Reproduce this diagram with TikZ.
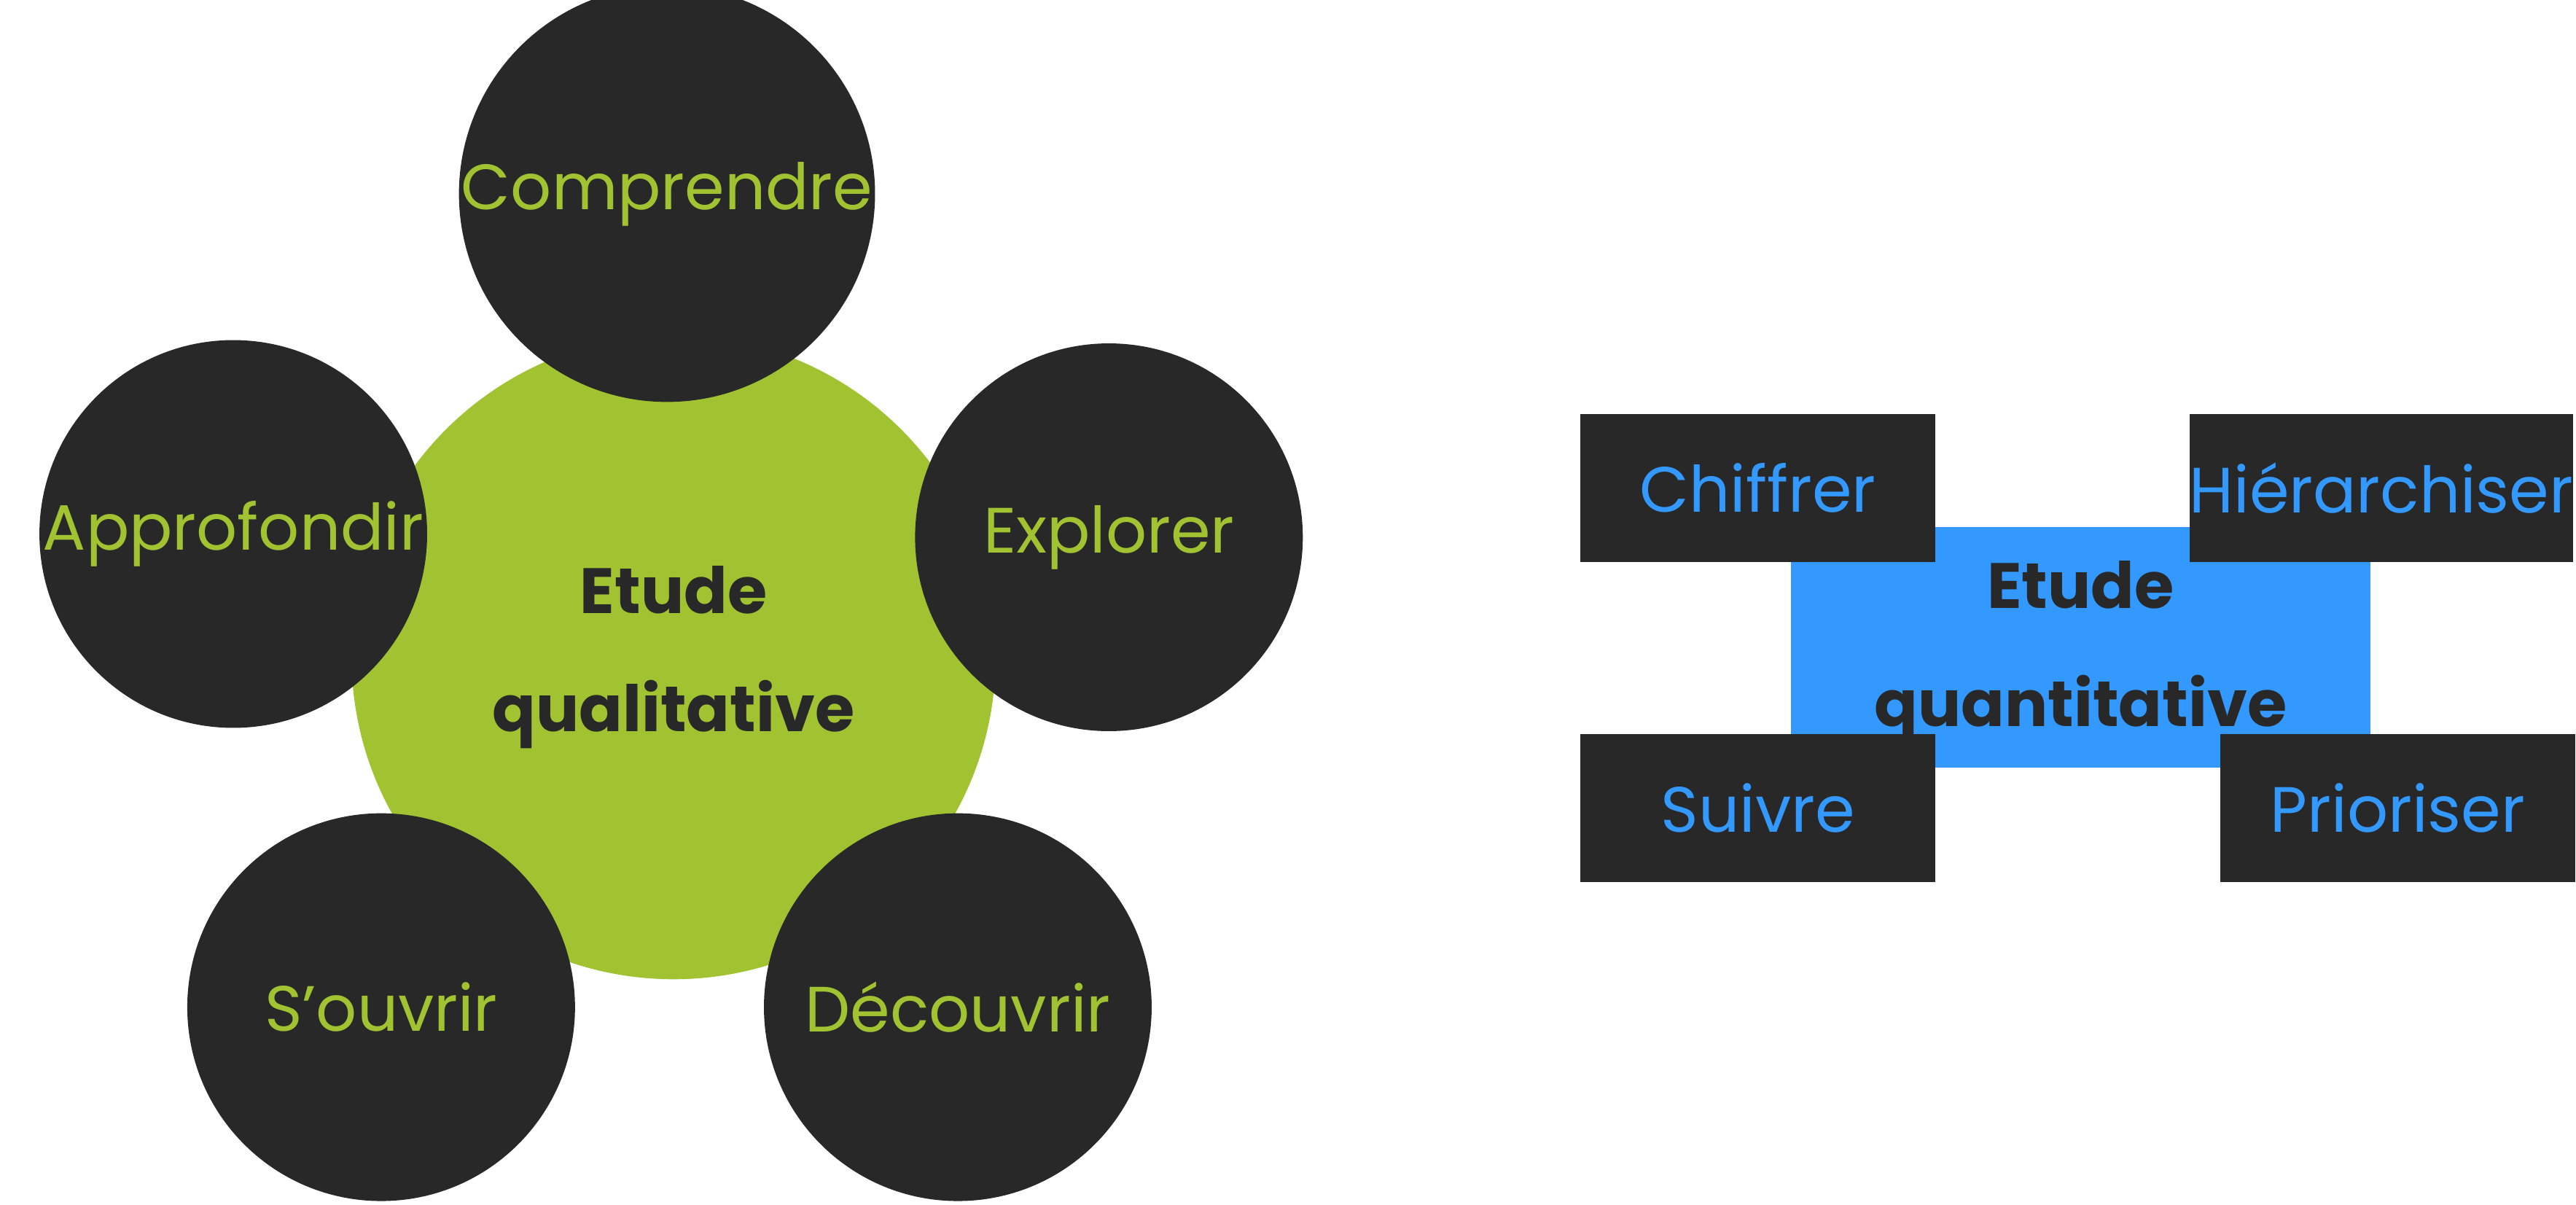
\documentclass[tikz,border=0pt]{standalone}
\usepackage{fontspec}
\setmainfont{Poppins}
\definecolor{darkgrey}{HTML}{282828}
\definecolor{leafgreen}{HTML}{A1C332}
\definecolor{skyblue}{HTML}{3399FF}
\begin{document}
\begin{tikzpicture}[x=0.02254cm,y=-0.02254cm]
      \tikzstyle{petal}=[circle, fill=darkgrey, minimum size=236*0.02254cm, inner sep=0pt,
                         text=leafgreen, font=\fontsize{25}{28}\selectfont]
      \tikzstyle{tag}=[rectangle, fill=darkgrey, minimum width=216*0.02254cm,
                       minimum height=90*0.02254cm, inner sep=0pt,
                       text=skyblue, font=\fontsize{25}{28}\selectfont]
      \tikzstyle{core}=[text=darkgrey, align=center, font=\bfseries\fontsize{25}{46}\selectfont]
      \useasboundingbox (0,0) rectangle (1568,733);

      % Qualitative side
      \node[circle, fill=leafgreen, minimum size=392*0.02254cm] (qual) at (410,400) {};
      \node[core] (qual-t) at (410,400) {Etude\\qualitative};
      \node[petal] (P-1) at (406,118) {Comprendre};
      \node[petal] (P-2) at (675,327) {Explorer};
      \node[petal] (P-3) at (583,613) {Découvrir};
      \node[petal] (P-4) at (232,613) {S’ouvrir};
      \node[petal] (P-5) at (142,325) {Approfondir};

      % Quantitative side
      \node[rectangle, fill=skyblue, minimum width=353*0.02254cm, minimum height=146*0.02254cm] (quant) at (1266.5,394) {};
      \node[core] (quant-t) at (1266.5,397) {Etude\\quantitative};
      \node[tag] (T-1) at (1070,297) {Chiffrer};
      \node[tag] (T-2) at (1449.5,297) {Hiérarchiser};
      \node[tag] (T-3) at (1070,492) {Suivre};
      \node[tag] (T-4) at (1459.5,492) {Prioriser};
\end{tikzpicture}
\end{document}
